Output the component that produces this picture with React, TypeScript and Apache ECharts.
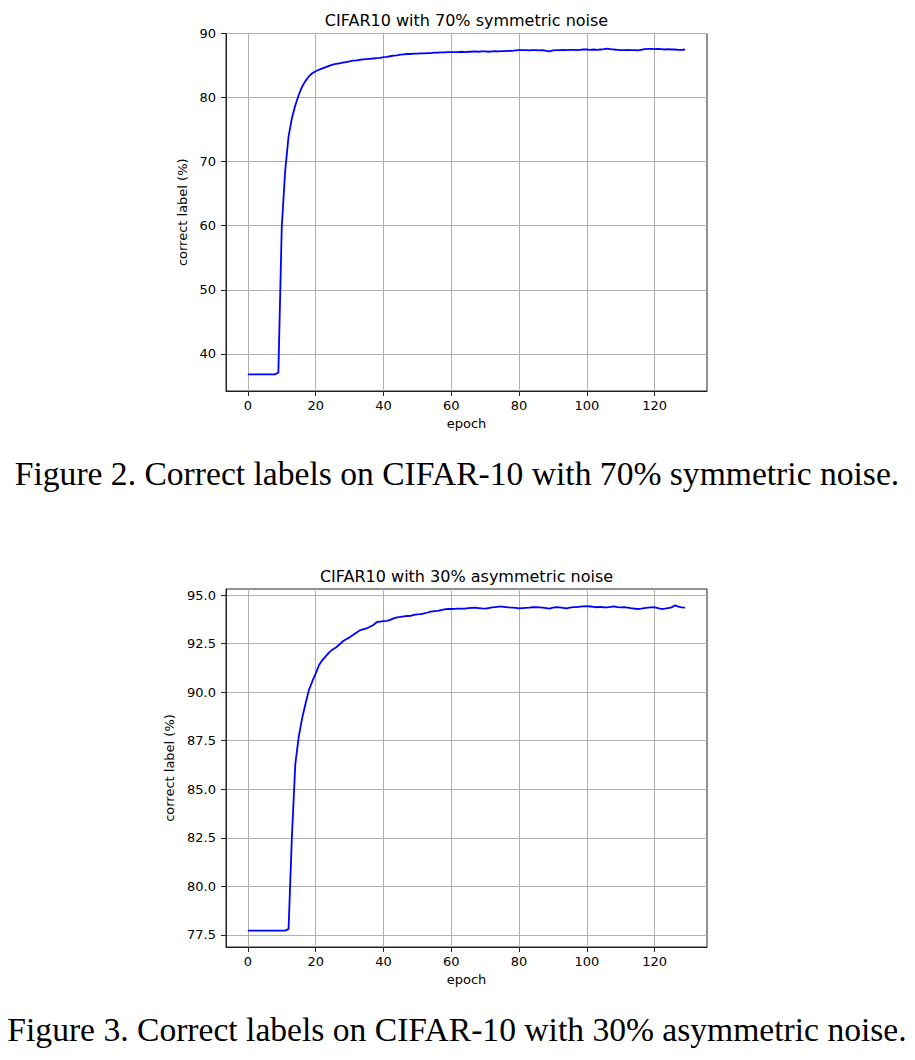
import { useEffect, useRef } from 'react'
import * as echarts from 'echarts'

// epoch index of every recorded point (0 .. 129)
const epochs = Array.from({ length: 130 }, (_, i) => i)

// Figure 2: CIFAR10 with 70% symmetric noise
const symmetric70 = [
  36.8, 36.8, 36.8, 36.8, 36.8, 36.8, 36.8, 36.8, 36.8, 37.1,
  59.8, 68.5, 73.9, 76.8, 78.8, 80.4, 81.7, 82.6, 83.3, 83.8,
  84.1, 84.35, 84.55, 84.75, 84.95, 85.15, 85.25, 85.35, 85.45, 85.55,
  85.65, 85.75, 85.8, 85.9, 85.95, 86.0, 86.05, 86.1, 86.15, 86.2,
  86.3, 86.35, 86.45, 86.55, 86.6, 86.7, 86.75, 86.8, 86.8, 86.85,
  86.85, 86.9, 86.9, 86.95, 86.95, 87.0, 87.0, 87.05, 87.05, 87.1,
  87.1, 87.1, 87.1, 87.15, 87.1, 87.15, 87.15, 87.2, 87.15, 87.2,
  87.2, 87.15, 87.2, 87.25, 87.2, 87.25, 87.25, 87.3, 87.3, 87.35,
  87.4, 87.4, 87.4, 87.35, 87.4, 87.4, 87.35, 87.4, 87.3, 87.2,
  87.35, 87.4, 87.4, 87.45, 87.4, 87.45, 87.45, 87.4, 87.45, 87.5,
  87.5, 87.45, 87.5, 87.45, 87.5, 87.55, 87.65, 87.55, 87.5, 87.45,
  87.4, 87.4, 87.45, 87.4, 87.4, 87.35, 87.45, 87.55, 87.6, 87.6,
  87.55, 87.6, 87.55, 87.5, 87.55, 87.5, 87.5, 87.45, 87.45, 87.5,
]

// Figure 3: CIFAR10 with 30% asymmetric noise
const asymmetric30 = [
  77.72, 77.72, 77.72, 77.72, 77.72, 77.72, 77.72, 77.72, 77.72, 77.72,
  77.72, 77.72, 77.8, 82.6, 86.3, 87.7, 88.65, 89.4, 90.1, 90.55,
  90.95, 91.4, 91.65, 91.85, 92.05, 92.2, 92.3, 92.45, 92.62, 92.72,
  92.82, 92.94, 93.06, 93.18, 93.23, 93.28, 93.37, 93.46, 93.6, 93.63,
  93.66, 93.67, 93.72, 93.8, 93.85, 93.87, 93.9, 93.92, 93.93, 93.98,
  94.0, 94.02, 94.05, 94.1, 94.15, 94.17, 94.18, 94.22, 94.26, 94.28,
  94.28, 94.29, 94.3, 94.3, 94.3, 94.32, 94.34, 94.35, 94.33, 94.31,
  94.3, 94.33, 94.36, 94.38, 94.4, 94.4, 94.38, 94.36, 94.35, 94.34,
  94.31, 94.33, 94.34, 94.35, 94.37, 94.37, 94.36, 94.35, 94.33, 94.3,
  94.35, 94.38, 94.36, 94.34, 94.31, 94.35, 94.38, 94.38, 94.4, 94.42,
  94.43, 94.41, 94.39, 94.37, 94.39, 94.37, 94.36, 94.39, 94.42, 94.38,
  94.36, 94.38, 94.35, 94.32, 94.3, 94.28, 94.3, 94.33, 94.35, 94.36,
  94.37, 94.33, 94.28, 94.3, 94.33, 94.36, 94.47, 94.4, 94.36, 94.35,
]

const xTicks = [0, 20, 40, 60, 80, 100, 120]
const yTicksTop = [40, 50, 60, 70, 80, 90]
const yTicksBottom = [77.5, 80, 82.5, 85, 87.5, 90, 92.5, 95]

const titles = ['CIFAR10 with 70% symmetric noise', 'CIFAR10 with 30% asymmetric noise']
const captions = [
  'Figure 2. Correct labels on CIFAR-10 with 70% symmetric noise.',
  'Figure 3. Correct labels on CIFAR-10 with 30% asymmetric noise.',
]

const sans = '"DejaVu Sans", sans-serif'
const serif = '"Liberation Serif", "Times New Roman", serif'
const axisText = { color: '#000', fontFamily: sans, fontSize: 13 }
const frame = '#222'
const gridColor = '#b0b0b0'

export default function App() {
  const chartRef = useRef<HTMLDivElement>(null)

  useEffect(() => {
    if (!chartRef.current) return
    const chart = echarts.init(chartRef.current, null, { renderer: 'svg' })

    const panels = [
      { top: 33.5, height: 357.5, yMin: 34.2, yMax: 90, step: 10, ticks: yTicksTop, digits: 0, nameGap: 27, values: symmetric70 },
      { top: 589, height: 358, yMin: 76.88, yMax: 95.31, step: 2.5, ticks: yTicksBottom, digits: 1, nameGap: 38, values: asymmetric30 },
    ]

    const option: any = {
      animation: false,
      grid: panels.map(p => ({
        left: 226,
        top: p.top,
        width: 481,
        height: p.height,
        show: true,
        borderColor: frame,
        borderWidth: 1,
        backgroundColor: 'transparent',
      })),
      xAxis: panels.map((_, i) => ({
        type: 'value',
        gridIndex: i,
        min: -6.45,
        max: 135.45,
        minInterval: 20,
        maxInterval: 20,
        axisLine: { show: true, onZero: false, lineStyle: { color: frame, width: 1 } },
        axisTick: { show: true, length: 5, customValues: xTicks, lineStyle: { color: frame, width: 1 } },
        axisLabel: { customValues: xTicks, margin: 8, ...axisText },
        splitLine: { show: true, lineStyle: { color: gridColor, width: 1 } },
        name: 'epoch',
        nameLocation: 'middle',
        nameGap: 26,
        nameTextStyle: axisText,
      })),
      yAxis: panels.map((p, i) => ({
        type: 'value',
        gridIndex: i,
        min: p.yMin,
        max: p.yMax,
        minInterval: p.step,
        maxInterval: p.step,
        axisLine: { show: true, onZero: false, lineStyle: { color: frame, width: 1 } },
        axisTick: { show: true, length: 5, customValues: p.ticks, lineStyle: { color: frame, width: 1 } },
        axisLabel: {
          customValues: p.ticks,
          margin: 10,
          formatter: (v: number) => v.toFixed(p.digits),
          ...axisText,
        },
        splitLine: { show: true, lineStyle: { color: gridColor, width: 1 } },
        name: 'correct label (%)',
        nameLocation: 'middle',
        nameGap: p.nameGap,
        nameTextStyle: axisText,
      })),
      series: panels.map((p, i) => ({
        type: 'line',
        xAxisIndex: i,
        yAxisIndex: i,
        data: p.values.map((v, k) => [epochs[k], v]),
        showSymbol: false,
        symbol: 'none',
        lineStyle: { color: '#0000ff', width: 1.8 },
        itemStyle: { color: '#0000ff' },
      })),
      graphic: [
        ...titles.map((t, i) => ({
          type: 'text',
          x: 466.5,
          y: i === 0 ? 20.5 : 576,
          style: { text: t, fill: '#000', font: `16px ${sans}`, align: 'center', verticalAlign: 'middle' },
        })),
        ...captions.map((t, i) => ({
          type: 'text',
          x: 457,
          y: i === 0 ? 473 : 1029,
          style: { text: t, fill: '#000', font: `33.6px ${serif}`, align: 'center', verticalAlign: 'middle' },
        })),
      ],
    }

    chart.setOption(option)

    return () => {
      chart.dispose()
    }
  }, [])

  return (
    <div
      ref={chartRef}
      style={{ position: 'absolute', left: 0, top: 0, width: '915px', height: '1060px', background: '#fff' }}
    />
  )
}
